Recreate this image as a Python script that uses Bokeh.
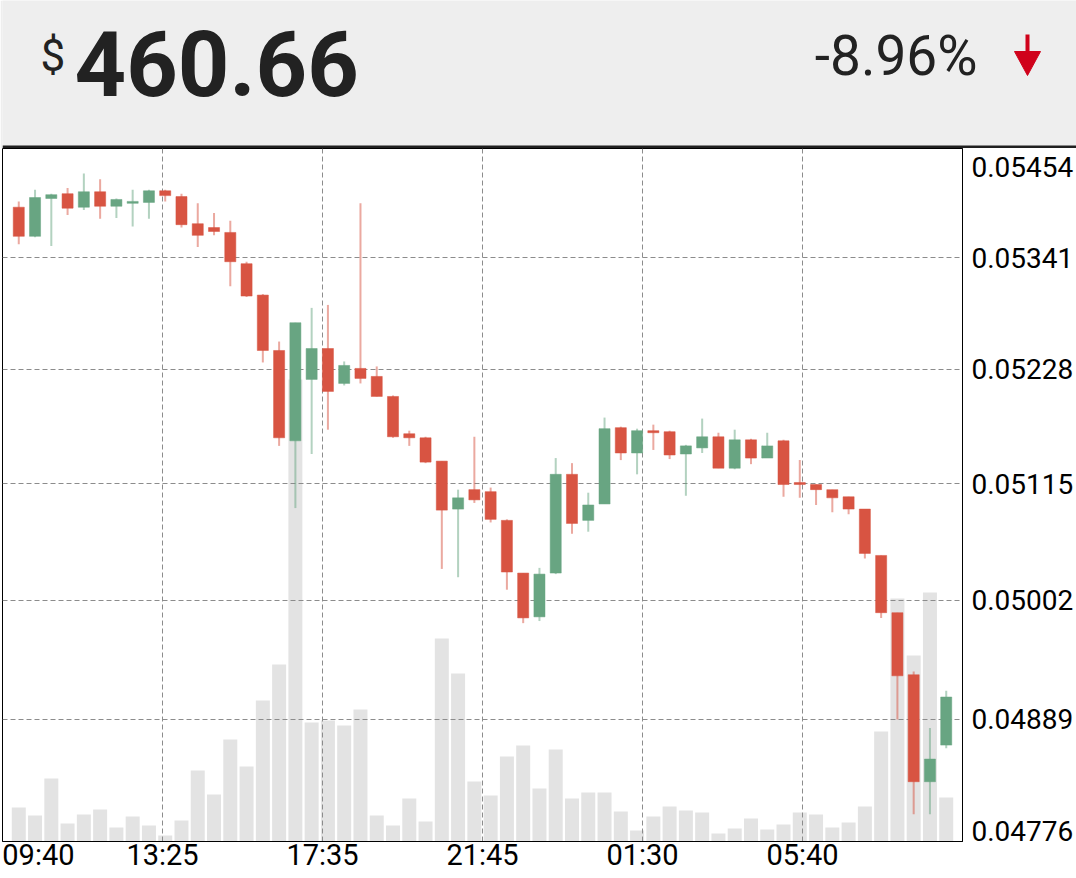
import numpy as np
from bokeh.plotting import figure
from bokeh.layouts import column
from bokeh.models import (Range1d, LinearScale, FixedTicker, ColumnDataSource)
from bokeh.core.properties import value
from bokeh.embed import file_html
from bokeh.resources import INLINE

# ---------------- data ----------------
price_text = "460.66"
change_text = "-8.96%"

opens = [0.05393, 0.05363, 0.05402, 0.05407, 0.05393, 0.05409, 0.05394, 0.05397, 0.05398, 0.05410,
         0.05404, 0.05376, 0.05372, 0.05367, 0.05335, 0.05303, 0.05247, 0.05157, 0.05218, 0.05249,
         0.05214, 0.05229, 0.05221, 0.05201, 0.05164, 0.05160, 0.05137, 0.05090, 0.05109, 0.05107,
         0.05079, 0.05028, 0.04986, 0.05028, 0.05124, 0.05079, 0.05095, 0.05170, 0.05145, 0.05167,
         0.05166, 0.05144, 0.05150, 0.05161, 0.05130, 0.05158, 0.05140, 0.05157, 0.05116, 0.05114,
         0.05109, 0.05102, 0.05090, 0.05045, 0.04990, 0.04931, 0.04831, 0.04865]
highs = [0.05399, 0.05411, 0.05407, 0.05413, 0.05428, 0.05422, 0.05402, 0.05411, 0.05411, 0.05411,
         0.05407, 0.05397, 0.05387, 0.05379, 0.05337, 0.05304, 0.05256, 0.05275, 0.05290, 0.05293,
         0.05236, 0.05397, 0.05231, 0.05202, 0.05167, 0.05161, 0.05137, 0.05109, 0.05161, 0.05111,
         0.05080, 0.05028, 0.05033, 0.05140, 0.05135, 0.05106, 0.05180, 0.05171, 0.05169, 0.05173,
         0.05167, 0.05153, 0.05179, 0.05165, 0.05168, 0.05159, 0.05165, 0.05158, 0.05138, 0.05114,
         0.05109, 0.05102, 0.05090, 0.05045, 0.04990, 0.04934, 0.04881, 0.04916]
lows = [0.05355, 0.05362, 0.05353, 0.05385, 0.05390, 0.05381, 0.05382, 0.05373, 0.05381, 0.05399,
        0.05372, 0.05352, 0.05364, 0.05312, 0.05301, 0.05235, 0.05152, 0.05091, 0.05144, 0.05168,
        0.05212, 0.05214, 0.05201, 0.05160, 0.05152, 0.05135, 0.05032, 0.05024, 0.05096, 0.05077,
        0.05012, 0.04980, 0.04982, 0.05027, 0.05066, 0.05068, 0.05095, 0.05138, 0.05124, 0.05148,
        0.05139, 0.05103, 0.05145, 0.05130, 0.05129, 0.05134, 0.05140, 0.05102, 0.05101, 0.05094,
        0.05087, 0.05085, 0.05042, 0.04985, 0.04889, 0.04801, 0.04801, 0.04862]
closes = [0.05363, 0.05403, 0.05406, 0.05392, 0.05409, 0.05394, 0.05401, 0.05399, 0.05410, 0.05405,
          0.05375, 0.05364, 0.05368, 0.05337, 0.05302, 0.05247, 0.05160, 0.05275, 0.05249, 0.05206,
          0.05232, 0.05219, 0.05201, 0.05161, 0.05160, 0.05136, 0.05089, 0.05101, 0.05099, 0.05080,
          0.05029, 0.04985, 0.05027, 0.05124, 0.05076, 0.05094, 0.05169, 0.05145, 0.05167, 0.05165,
          0.05143, 0.05152, 0.05161, 0.05130, 0.05158, 0.05140, 0.05152, 0.05114, 0.05114, 0.05109,
          0.05101, 0.05090, 0.05047, 0.04990, 0.04930, 0.04831, 0.04852, 0.04910]
volumes = [34, 26, 63, 18, 27, 32, 14, 25, 16, 6,
           21, 71, 47, 102, 75, 141, 177, 462, 119, 121,
           116, 132, 26, 16, 43, 20, 203, 168, 60, 46,
           85, 96, 53, 92, 43, 49, 49, 30, 11, 25,
           35, 31, 29, 8, 13, 23, 12, 17, 29, 27,
           14, 19, 35, 110, 243, 186, 249, 44]

y_tick_labels = ["0.04776", "0.04889", "0.05002", "0.05115", "0.05228", "0.05341", "0.05454"]
x_tick_labels = ["09:40", "13:25", "17:35", "21:45", "01:30", "05:40"]

# ---------------- styles / layout ----------------
UP = "#68a582"
DOWN = "#d85442"
VOL = "#e3e3e3"
GRID = "#8c8c8c"
FONT = "Roboto"
HEAD_BG = "#eeeeee"
DARK = "#202020"
ARROW = "#d0021b"
TXT = "#222222"

PAGE_W = 1076
HEAD_H = 148
FRAME_L = 2
FRAME_W = 962
FRAME_H = 693
BOTTOM = 37
RIGHT = PAGE_W - FRAME_L - FRAME_W

n = len(opens)
xs = list(range(n))
colors = [UP if c >= o else DOWN for o, c in zip(opens, closes)]
src = ColumnDataSource(dict(
    x=xs, h=highs, l=lows, v=volumes,
    top=[max(o, c) for o, c in zip(opens, closes)],
    bot=[min(o, c) for o, c in zip(opens, closes)],
    col=colors,
))

x_start, x_end = -1, n
y_ticks = [float(t) for t in y_tick_labels]
y_min, y_max = y_ticks[0], y_ticks[-1]
x_tick_pos = list(np.linspace(x_start, x_end, len(x_tick_labels) + 1)[:-1])

# ---------------- header ----------------
h = figure(frame_width=PAGE_W, frame_height=HEAD_H,
           x_range=Range1d(0, PAGE_W), y_range=Range1d(HEAD_H, 0),
           x_axis_location=None, y_axis_location=None, output_backend="svg",
           toolbar_location=None, min_border=0, title=None)
h.grid.visible = False
h.background_fill_color = HEAD_BG
h.border_fill_color = HEAD_BG
h.outline_line_color = None
h.quad(left=[0], right=[PAGE_W], top=[HEAD_H - 3], bottom=[HEAD_H],
       fill_color=DARK, line_color=None)
h.text(x=[38], y=[55], text=["$"], text_font=value(FONT), text_font_size="44px",
       text_color=TXT, text_align="left", text_baseline="middle")
h.text(x=[72], y=[63], text=[price_text], text_font=value(FONT), text_font_size="90px",
       text_font_style="bold", text_color=TXT, text_align="left", text_baseline="middle")
h.text(x=[975], y=[55], text=[change_text], text_font=value(FONT), text_font_size="55px",
       text_color=TXT, text_align="right", text_baseline="middle")
h.segment(x0=[1025], y0=[34], x1=[1025], y1=[54], line_color=ARROW, line_width=4)
h.patch(x=[1012, 1038, 1025], y=[51, 51, 75], fill_color=ARROW, line_color=ARROW)

# ---------------- main chart ----------------
p = figure(width=PAGE_W, height=FRAME_H + BOTTOM,
           x_range=Range1d(x_start, x_end),
           y_range=Range1d(y_min, y_max), y_axis_type="log",
           y_axis_location="right", output_backend="svg", toolbar_location=None,
           min_border_left=FRAME_L, min_border_top=0, min_border_bottom=BOTTOM,
           min_border_right=RIGHT, title=None)
p.extra_y_ranges = {"vol": Range1d(0, max(volumes) * 1.5)}
p.extra_y_scales = {"vol": LinearScale()}
p.background_fill_color = "white"
p.border_fill_color = "white"
p.outline_line_color = "black"
p.outline_line_width = 1

p.vbar(x="x", top="v", bottom=0, width=0.86, source=src, y_range_name="vol",
       fill_color=VOL, line_color=None, level="image")
p.segment(x0="x", y0="h", x1="x", y1="l", source=src, line_color="col",
          line_alpha=0.5, line_width=2)
p.vbar(x="x", top="top", bottom="bot", width=0.68, source=src, fill_color="col",
       fill_alpha=1.0, line_color="col", line_alpha=0.5, line_width=1)

# Edge tick labels sit inside the chart's extent (as in the original), so their
# label anchors are nudged inward by a few pixels, converted to data units.
px_per_x = FRAME_W / (x_end - x_start)
px_per_ln = FRAME_H / np.log(y_max / y_min)
first_x_label_pos = x_start + 36 / px_per_x
top_y_label_pos = y_max * np.exp(-18 / px_per_ln)
bot_y_label_pos = y_min * np.exp(11 / px_per_ln)

x_label_pos = [first_x_label_pos] + x_tick_pos[1:]
y_label_pos = [bot_y_label_pos] + y_ticks[1:-1] + [top_y_label_pos]

xa = p.xaxis[0]
ya = p.yaxis[0]
xa.ticker = FixedTicker(ticks=x_label_pos)
xa.major_label_overrides = {float(pos): lab for pos, lab in zip(x_label_pos, x_tick_labels)}
ya.ticker = FixedTicker(ticks=y_label_pos)
ya.major_label_overrides = {float(pos): lab for pos, lab in zip(y_label_pos, y_tick_labels)}
for ax in (xa, ya):
    ax.major_tick_line_color = None
    ax.minor_tick_line_color = None
    ax.axis_line_color = "black"
    ax.major_label_text_font = FONT
    ax.major_label_text_color = "black"
xa.major_label_text_font_size = "29px"
ya.major_label_text_font_size = "28px"
xa.major_label_standoff = -10
ya.major_label_standoff = 3

# grid only at the inner ticks (the outer ones coincide with the frame)
p.xgrid.ticker = FixedTicker(ticks=x_tick_pos[1:])
p.ygrid.ticker = FixedTicker(ticks=y_ticks[1:-1])
p.grid.grid_line_color = GRID
p.grid.grid_line_dash = "5 3"
p.grid.grid_line_width = 1

layout = column(h, p, spacing=0)
open("out.html", "w").write(file_html(layout, INLINE))
